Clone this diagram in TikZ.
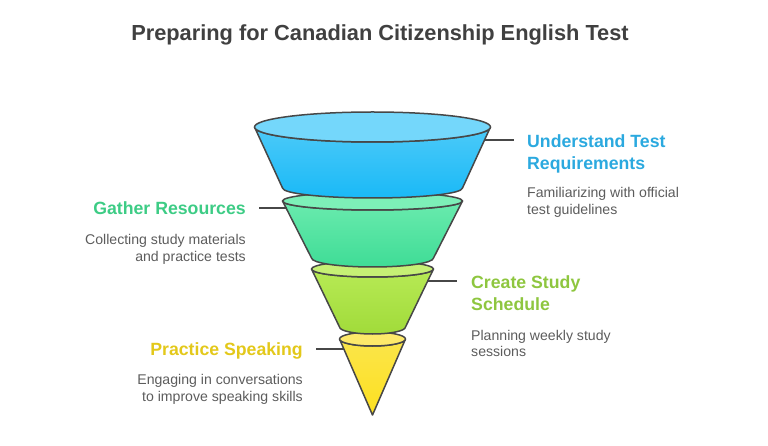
\documentclass[tikz,border=0pt]{standalone}
\usepackage{fontspec}
\setmainfont{Liberation Sans}
\usepackage{tikz}
\usetikzlibrary{calc, positioning}

\definecolor{titlegray}{HTML}{404040}
\definecolor{descgray}{HTML}{5C5C5C}
\definecolor{linegray}{HTML}{474747}
\definecolor{reqblue}{HTML}{2BA9DF}
\definecolor{resgreen}{HTML}{3DCC85}
\definecolor{schedlime}{HTML}{8EC63F}
\definecolor{speakyellow}{HTML}{E3C81A}

\tikzset{
    titlenode/.style = {draw=none, inner sep=0em, anchor=base, text=titlegray,
      font=\bfseries\fontsize{21.8}{25}\selectfont},
    headnode/.style = {draw=none, inner sep=0em, font=\bfseries\fontsize{17.7}{21.5}\selectfont},
    descnode/.style = {draw=none, inner sep=0em, text=descgray, font=\fontsize{14.1}{16.5}\selectfont},
    connect/.style = {draw=linegray, line width=1.3pt},
    segnode/.style = {draw=linegray, line width=1.5pt, line join=round}
}

\begin{document}
\begin{tikzpicture}[x=1pt, y=-1pt]
    \useasboundingbox (0,0) rectangle (768,446);

    \node [name=title, titlenode] at (380,41) {Preparing for Canadian Citizenship English Test};

    % funnel, drawn from the tip upwards
    \foreach \yt/\rxt/\ryt/\yb/\rxb/\ryb/\ctop/\cbot/\clid in {
        339/33/7/415/0.01/0.01/FBE54A/FDE020/FDE96A,
        269/61/8/327/33/7/B7EA55/A1DB3A/C6F075,
        201/90/9/258/61/9/6AEBAE/3FDC96/7DF0B8,
        127/118/15/188/90/10/4CCAF8/1AB9F7/74D7FB} {
        \definecolor{segtop}{HTML}{\ctop}
        \definecolor{segbot}{HTML}{\cbot}
        \definecolor{seglid}{HTML}{\clid}
        \path [segnode, top color=segtop, bottom color=segbot]
            ({372.5-\rxt},\yt) -- ({372.5-\rxb},\yb)
            arc[start angle=180, end angle=360, x radius=\rxb pt, y radius=\ryb pt]
            -- ({372.5+\rxt},\yt)
            arc[start angle=0, end angle=-180, x radius=\rxt pt, y radius=\ryt pt] -- cycle;
        \path [segnode, fill=seglid] (372.5,\yt) ellipse[x radius=\rxt pt, y radius=\ryt pt];
    }

    % labels (base anchor sits on the last line)
    \node [name=reqhead, headnode, text=reqblue, align=left, anchor=base west] at (527,169.5)
        {Understand Test\\Requirements};
    \node [name=reqdesc, descnode, align=left, anchor=base west] at (527,214.5)
        {Familiarizing with official\\test guidelines};

    \node [name=reshead, headnode, text=resgreen, align=right, anchor=base east] at (246,214.5)
        {Gather Resources};
    \node [name=resdesc, descnode, align=right, anchor=base east] at (246,261.5)
        {Collecting study materials\\and practice tests};

    \node [name=schedhead, headnode, text=schedlime, align=left, anchor=base west] at (471,310)
        {Create Study\\Schedule};
    \node [name=scheddesc, descnode, align=left, anchor=base west] at (471,356.5)
        {Planning weekly study\\sessions};

    \node [name=speakhead, headnode, text=speakyellow, align=right, anchor=base east] at (303,355.5)
        {Practice Speaking};
    \node [name=speakdesc, descnode, align=right, anchor=base east] at (303,401)
        {Engaging in conversations\\to improve speaking skills};

    % connectors
    \coordinate (reqpin) at (484,140);
    \coordinate (respin) at (287,208);
    \coordinate (schedpin) at (428,281);
    \coordinate (speakpin) at (344,349);
    \draw [connect] (reqpin) -- ($(reqpin -| reqhead.west)+(-13,0)$);
    \draw [connect] (respin) -- ($(respin -| reshead.east)+(13,0)$);
    \draw [connect] (schedpin) -- ($(schedpin -| schedhead.west)+(-14,0)$);
    \draw [connect] (speakpin) -- ($(speakpin -| speakhead.east)+(13,0)$);
\end{tikzpicture}
\end{document}
